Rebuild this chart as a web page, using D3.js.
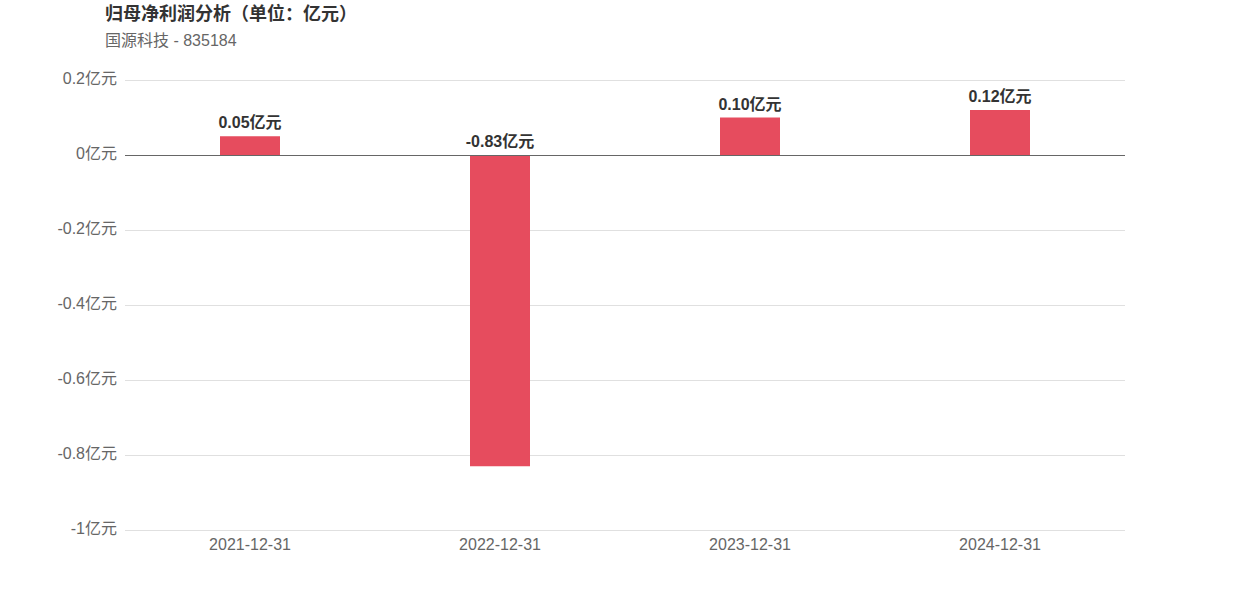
<!DOCTYPE html>
<html><head><meta charset="utf-8">
<script src="https://cdn.jsdelivr.net/npm/d3@7"></script>
<style>body{margin:0;background:#fff;font-family:"Liberation Sans","Noto Sans CJK SC",sans-serif;}</style>
</head><body>
<svg id="c" width="1250" height="600"></svg>
<script>
const categories = ["2021-12-31","2022-12-31","2023-12-31","2024-12-31"];
const values = [0.05,-0.83,0.10,0.12];
const valueLabels = ["0.05亿元","-0.83亿元","0.10亿元","0.12亿元"];
const yTicks = [0.2,0,-0.2,-0.4,-0.6,-0.8,-1];
const yTickLabels = ["0.2亿元","0亿元","-0.2亿元","-0.4亿元","-0.6亿元","-0.8亿元","-1亿元"];
const title = "归母净利润分析（单位：亿元）";
const subtitle = "国源科技 - 835184";

const svg = d3.select("#c");
const font = '"Liberation Sans","Noto Sans CJK SC",sans-serif';
const x = d3.scaleBand().domain(categories).range([125,1125]);
const y = d3.scaleLinear().domain([-1,0.2]).range([530,80]);

svg.append("text").attr("x",105).attr("y",20).attr("font-size",18).attr("font-weight","bold")
  .attr("fill","#333").attr("font-family",'"Noto Sans CJK SC","Liberation Sans",sans-serif').text(title);
svg.append("text").attr("x",105).attr("y",46).attr("font-size",16)
  .attr("fill","#666").attr("font-family",font).text(subtitle);

// grid
svg.append("g").selectAll("line").data(yTicks).join("line")
  .attr("x1",125).attr("x2",1125).attr("y1",d=>y(d)+0.5).attr("y2",d=>y(d)+0.5)
  .attr("stroke",d=>d===0?"#666":"#e0e0e0").attr("stroke-width",1);

svg.append("g").selectAll("text").data(yTicks).join("text")
  .attr("x",117).attr("y",d=>y(d)-2).attr("dy","0.35em").attr("text-anchor","end")
  .attr("font-size",16).attr("fill","#666").attr("font-family",font)
  .text((d,i)=>yTickLabels[i]);

svg.append("g").selectAll("text").data(categories).join("text")
  .attr("x",d=>x(d)+x.bandwidth()/2).attr("y",550).attr("text-anchor","middle")
  .attr("font-size",16).attr("fill","#666").attr("font-family",font).text(d=>d);

const bw = 60;
svg.append("g").selectAll("rect").data(values).join("rect")
  .attr("x",(d,i)=>x(categories[i])+x.bandwidth()/2-bw/2).attr("width",bw)
  .attr("y",d=>y(Math.max(0,d))).attr("height",d=>Math.abs(y(d)-y(0)))
  .attr("fill","#e64c5e");

// redraw zero line over bars
svg.append("line").attr("x1",125).attr("x2",1125).attr("y1",y(0)+0.5).attr("y2",y(0)+0.5)
  .attr("stroke","#666");

svg.append("g").selectAll("text").data(values).join("text")
  .attr("x",(d,i)=>x(categories[i])+x.bandwidth()/2)
  .attr("y",d=>d>=0?y(d)-8:y(0)-8).attr("text-anchor","middle")
  .attr("font-size",16).attr("font-weight","bold").attr("fill","#333").attr("font-family",font)
  .text((d,i)=>valueLabels[i]);
</script>
</body></html>
